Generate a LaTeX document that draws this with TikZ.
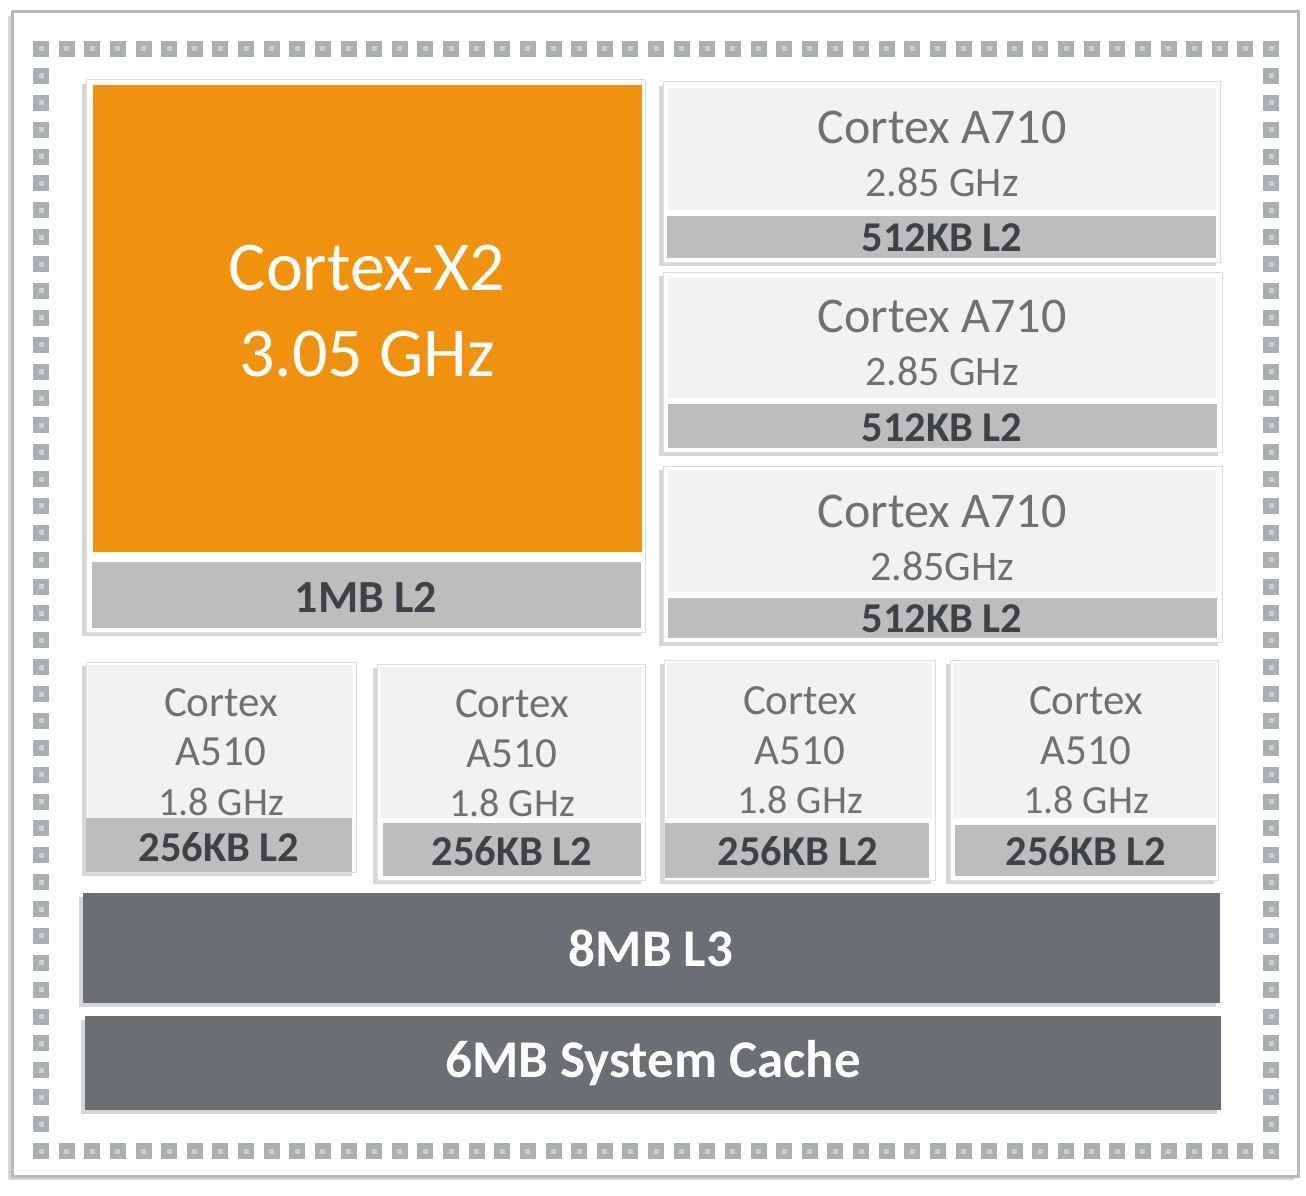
\documentclass[tikz,border=0pt]{standalone}
\usepackage{fontspec}
\setmainfont{Carlito}
\usetikzlibrary{shadows}
\definecolor{orng}{RGB}{240,146,14}
\definecolor{framec}{RGB}{182,186,189}
\definecolor{sqc}{RGB}{170,175,178}
\definecolor{sqin}{RGB}{205,207,209}
\definecolor{contc}{RGB}{222,222,222}
\definecolor{panelc}{RGB}{242,242,242}
\definecolor{barc}{RGB}{189,189,189}
\definecolor{darkc}{RGB}{107,110,114}
\definecolor{txtc}{RGB}{112,112,112}
\definecolor{boldc}{RGB}{62,66,71}
\newcommand\mybox[6]{\node[#1, minimum width=#5pt, minimum height=#6pt] (#2) at (#3,#4) {};}
\begin{document}
\begin{tikzpicture}[x=1pt,y=-1pt,
  shd/.style={drop shadow={shadow xshift=-4pt, shadow yshift=-4pt, opacity=0.16, fill=black}},
  frm/.style={draw=framec, line width=3pt, fill=white, inner sep=0, outer sep=0, shd},
  cont/.style={draw=contc, line width=1pt, fill=white, inner sep=0, outer sep=0, shd},
  panel/.style={fill=panelc, inner sep=0, outer sep=0},
  bar/.style={fill=barc, inner sep=0, outer sep=0},
  core/.style={fill=orng, inner sep=0, outer sep=0},
  dark/.style={fill=darkc, inner sep=0, outer sep=0, shd},
  bigt/.style={text=white, inner sep=0, font=\fontsize{70}{84}\selectfont},
  ttl/.style={text=txtc, inner sep=0, font=\fontsize{50}{60}\selectfont},
  sub/.style={text=txtc, inner sep=0, font=\fontsize{42}{50}\selectfont},
  smt/.style={text=txtc, inner sep=0, font=\fontsize{43}{52}\selectfont},
  sml/.style={text=txtc, inner sep=0, font=\fontsize{40}{48}\selectfont},
  l2t/.style={text=boldc, inner sep=0, font=\bfseries\fontsize{42.5}{50}\selectfont},
  l2big/.style={text=boldc, inner sep=0, font=\bfseries\fontsize{46}{54}\selectfont},
  darkt/.style={text=white, inner sep=0, font=\bfseries\fontsize{53}{64}\selectfont}]
\useasboundingbox (0,0) rectangle (1306,1196);
\fill[white] (0,0) rectangle (1306,1196);
% outer frame
\mybox{frm}{frame}{655}{594}{1286}{1164}
% pad squares
\foreach \i in {0,...,48} {
  \pgfmathsetmacro\xx{41+\i*25.625}
  \fill[sqc] (\xx-8,41) rectangle ++(16,16);
  \fill[sqin] (\xx-2.5,46.5) rectangle ++(5,5);
  \fill[sqc] (\xx-8,1143) rectangle ++(16,16);
  \fill[sqin] (\xx-2.5,1148.5) rectangle ++(5,5);
}
\foreach \j in {1,...,40} {
  \pgfmathsetmacro\yy{49+\j*26.878}
  \fill[sqc] (33,\yy-8) rectangle ++(16,16);
  \fill[sqin] (38.5,\yy-2.5) rectangle ++(5,5);
  \fill[sqc] (1263,\yy-8) rectangle ++(16,16);
  \fill[sqin] (1268.5,\yy-2.5) rectangle ++(5,5);
}
% Cortex-X2
\mybox{cont}{x2c}{365.5}{356}{559}{552}
\mybox{core}{x2}{367.5}{318.5}{549}{467}
\mybox{bar}{x2l2}{366.5}{595}{549}{66}
\node[bigt] (x2a) at (367,268) {Cortex-X2};
\node[bigt] (x2b) at (367,354) {3.05 GHz};
\node[l2big] (x2l2t) at (366,597) {1MB L2};
% Cortex A710 #1
\mybox{cont}{ac1}{941.5}{172}{557}{180}
\mybox{panel}{ap1}{942}{149}{548}{122}
\mybox{bar}{ab1}{941.5}{237}{549}{42}
\node[ttl] (aa1) at (942,127) {Cortex A710};
\node[sub] (af1) at (942,182) {2.85 GHz};
\node[l2t] (al1) at (942,238) {512KB L2};
% Cortex A710 #2
\mybox{cont}{ac2}{942.5}{362}{559}{180}
\mybox{panel}{ap2}{942}{338}{548}{120}
\mybox{bar}{ab2}{942}{426}{549}{44}
\node[ttl] (aa2) at (942,316) {Cortex A710};
\node[sub] (af2) at (942,371) {2.85 GHz};
\node[l2t] (al2) at (942,428) {512KB L2};
% Cortex A710 #3
\mybox{cont}{ac3}{942.5}{554}{559}{176}
\mybox{panel}{ap3}{942}{531}{548}{122}
\mybox{bar}{ab3}{942}{618}{549}{40}
\node[ttl] (aa3) at (942,511) {Cortex A710};
\node[sub] (af3) at (942,566) {2.85GHz};
\node[l2t] (al3) at (942,619) {512KB L2};
% Cortex A510 #1
\mybox{cont}{lc1}{221}{767}{270}{210}
\mybox{panel}{lp1}{220.5}{741.5}{265}{153}
\node[smt] (la1) at (221,703) {Cortex};
\node[smt] (lb1) at (221,752) {A510};
\node[sml] (lf1) at (221,802) {1.8 GHz};
\mybox{bar}{lbar1}{219}{845}{266}{54}
\node[l2t] (ll1) at (219,847) {256KB L2};
% Cortex A510 #2
\mybox{cont}{lc2}{511}{772}{268}{216}
\mybox{panel}{lp2}{511}{742.5}{262}{151}
\mybox{bar}{lbar2}{512}{849.5}{258}{53}
\node[smt] (la2) at (512,704) {Cortex};
\node[smt] (lb2) at (512,754) {A510};
\node[sml] (lf2) at (512,803) {1.8 GHz};
\node[l2t] (ll2) at (512,851) {256KB L2};
% Cortex A510 #3
\mybox{cont}{lc3}{799.5}{770}{271}{220}
\mybox{panel}{lp3}{799.5}{740.5}{265}{155}
\mybox{bar}{lbar3}{797}{850.5}{264}{55}
\node[smt] (la3) at (800,701) {Cortex};
\node[smt] (lb3) at (800,751) {A510};
\node[sml] (lf3) at (800,800) {1.8 GHz};
\node[l2t] (ll3) at (798,851) {256KB L2};
% Cortex A510 #4
\mybox{cont}{lc4}{1084}{770}{268}{220}
\mybox{panel}{lp4}{1084.5}{740.5}{263}{155}
\mybox{bar}{lbar4}{1085.5}{850.5}{261}{51}
\node[smt] (la4) at (1086,701) {Cortex};
\node[smt] (lb4) at (1086,751) {A510};
\node[sml] (lf4) at (1086,800) {1.8 GHz};
\node[l2t] (ll4) at (1086,851) {256KB L2};
% L3 and system cache
\mybox{dark}{l3}{651.5}{948}{1137}{110}
\node[darkt] (l3t) at (651,948) {8MB L3};
\mybox{dark}{slc}{653}{1063}{1136}{94}
\node[darkt] (slct) at (653,1063) {6MB System Cache};
\end{tikzpicture}
\end{document}
